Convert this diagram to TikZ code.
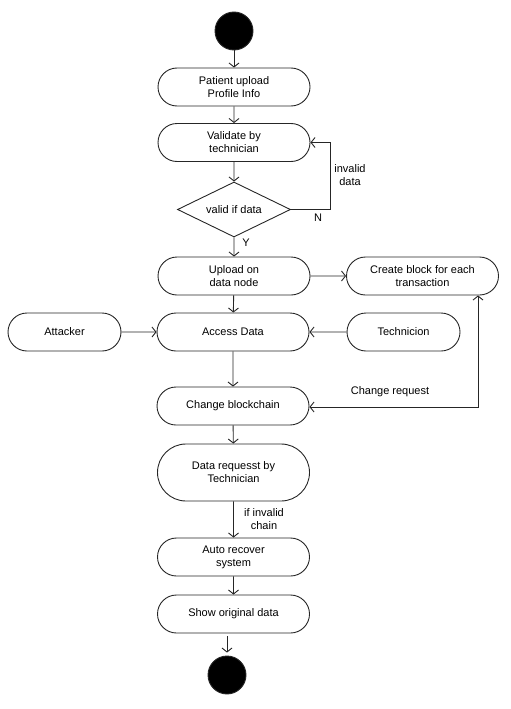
\documentclass[tikz,border=0pt]{standalone}
\usepackage{fontspec}
\setmainfont{Liberation Sans}
\usetikzlibrary{arrows.meta, shapes.misc, shapes.geometric}

\tikzset{
  act/.style={rounded rectangle, draw=black!85, line width=0.9pt, minimum width=152pt,
    minimum height=38pt, inner sep=0pt, align=center},
  decision/.style={diamond, draw=black!85, line width=0.9pt, minimum width=113pt,
    minimum height=55pt, inner sep=0pt, aspect=2},
  terminal/.style={circle, draw=black!85, fill=black, line width=0.9pt, minimum size=38pt, inner sep=0pt},
  flow/.style={draw=black!85, line width=0.9pt, -{Straight Barb[length=4pt,width=10pt]}},
  lbl/.style={align=center, inner sep=0pt}
}

\begin{document}
\begin{tikzpicture}[x=1pt, y=-1pt, font=\fontsize{11}{13}\selectfont]
\useasboundingbox (0,0) rectangle (511,709);

% main column
\node[terminal] (start) at (234,31) {};
\node[act] (upload) at (234,87) {Patient upload\\Profile Info};
\node[act] (validate) at (234,142.5) {Validate by\\technician};
\node[decision] (check) at (234,209.5) {valid if data};
\node[act] (datanode) at (234,276) {Upload on\\data node};
\node[act] (block) at (422.5,276) {Create block for each\\transaction};
\node[act, minimum width=113pt] (attacker) at (64.5,332) {Attacker};
\node[act] (access) at (233,332) {Access Data};
\node[act, minimum width=113pt] (technicion) at (403.5,332) {Technicion};
\node[act] (change) at (233,406) {Change blockchain};
\node[act, minimum height=57pt] (request) at (233.5,472.5) {Data requesst by\\Technician};
\node[act] (recover) at (233.5,557) {Auto recover\\system};
\node[act] (original) at (233.5,614) {Show original data};
\node[terminal] (stop) at (227,675) {};
\coordinate (crcorner) at (478,407);

% connectors
\draw[flow] (start) -- (upload);
\draw[flow] (upload) -- (validate);
\draw[flow] (validate) -- (check);
\draw[flow] (check.east) -- ++(39,0) |- (validate.east);
\draw[flow] (check) -- (datanode);
\draw[flow] (datanode) -- (block);
\draw[flow] (datanode) -- (access);
\draw[flow] (attacker) -- (access);
\draw[flow] (technicion) -- (access);
\draw[flow] (access) -- (change);
\draw[flow, {Straight Barb[length=4pt,width=10pt]}-{Straight Barb[length=4pt,width=10pt]}]
  (change.east |- crcorner) -- (crcorner) -- (block.south -| crcorner);
\draw[flow] (change) -- (request);
\draw[flow] (request) -- (recover);
\draw[flow] (recover) -- (original);
\draw[flow, shorten <=3pt, shorten >=3pt] (original.south -| stop) -- (stop);

% labels
\node[lbl] at (350,175) {invalid\\data};
\node[lbl] at (318,218) {N};
\node[lbl] at (246,243) {Y};
\node[lbl] at (390,392) {Change request};
\node[lbl] at (264,519) {if invalid\\chain};
\end{tikzpicture}
\end{document}
